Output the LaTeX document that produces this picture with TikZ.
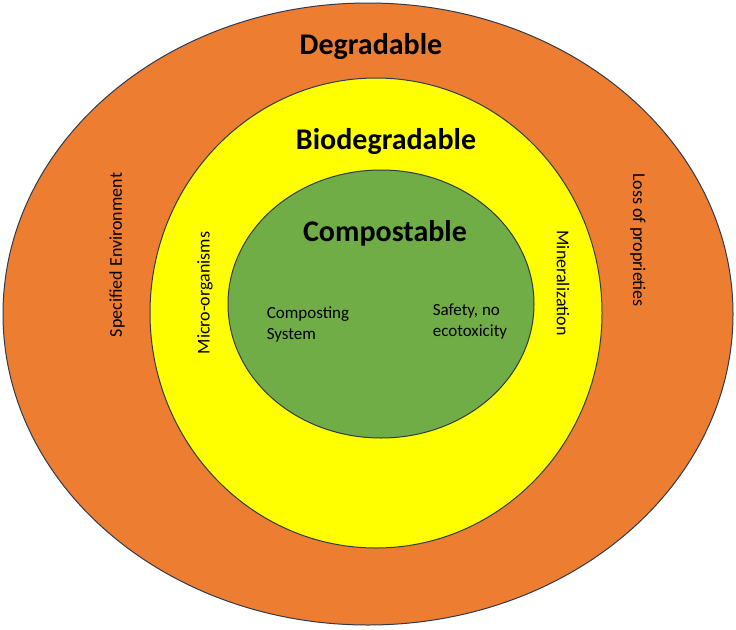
\documentclass[tikz,border=0pt]{standalone}
\usepackage{fontspec}
\setmainfont{Carlito}
\definecolor{orng}{HTML}{ED7D31}
\definecolor{yel}{HTML}{FFFF00}
\definecolor{grn}{HTML}{70AD47}
\definecolor{edge}{HTML}{2F3B4C}
\begin{document}
\begin{tikzpicture}[x=1pt,y=-1pt,
  ring/.style={draw=edge,line width=1pt},
  title/.style={font=\fontsize{30}{34}\selectfont\bfseries},
  lbl/.style={font=\fontsize{18}{22}\selectfont},
  small/.style={font=\fontsize{17}{21}\selectfont,align=left}]
\useasboundingbox (0,0) rectangle (736,629);
\fill[white] (0,0) rectangle (736,629);
\draw[ring,fill=orng] (368,314) ellipse [x radius=365,y radius=311];
\draw[ring,fill=yel] (376,313) ellipse [x radius=226,y radius=235];
\draw[ring,fill=grn] (381,304) ellipse [x radius=153,y radius=134];
\node[title] (deg) at (371,47) {Degradable};
\node[title] (bio) at (386,142) {Biodegradable};
\node[title] (comp) at (385,233) {Compostable};
\node[small] (cs) at (308,324) {Composting\\System};
\node[small] (sf) at (470,322) {Safety, no\\ecotoxicity};
\node[lbl,rotate=90] (se) at (117,255) {Specified Environment};
\node[lbl,rotate=90] (mo) at (205,293) {Micro-organisms};
\node[lbl,rotate=-90] (mi) at (563,283) {Mineralization};
\node[lbl,rotate=-90] (lp) at (638,240) {Loss of proprieties};
\end{tikzpicture}
\end{document}
